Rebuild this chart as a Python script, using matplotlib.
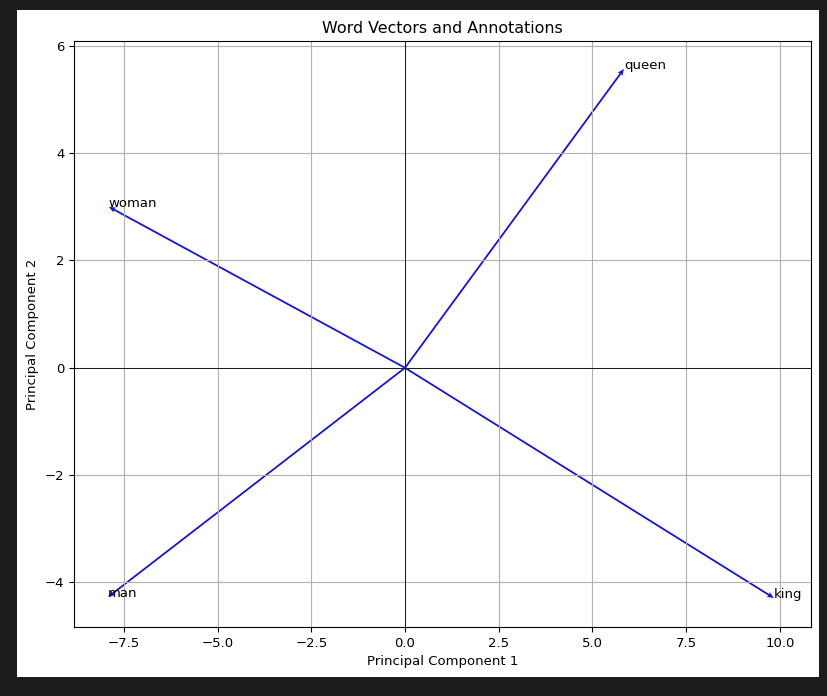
import numpy as np
import matplotlib
matplotlib.use('Agg')
import matplotlib.pyplot as plt
from matplotlib.patches import Rectangle

# word vectors after PCA
words = ['king', 'queen', 'man', 'woman']
pc1 = [9.84, 5.84, -7.92, -7.90]
pc2 = [-4.29, 5.57, -4.27, 3.0]

plt.rcParams['font.size'] = 9.55
plt.rcParams['axes.titlesize'] = 11.46

fig = plt.figure(figsize=(8.28, 6.96), dpi=100, facecolor='#1c1c1c')
# white figure area inside the dark frame
fig.patches.append(Rectangle((17/828, 1 - 677/696), 802/828, 667/696,
                             transform=fig.transFigure, facecolor='white',
                             edgecolor='none', zorder=-10))
ax = fig.add_axes([74/828, 1 - 627/696, (811-74)/828, (627-41)/696])

origin = np.zeros(len(words))
ax.quiver(origin, origin, pc1, pc2, angles='xy', scale_units='xy', scale=1,
          color='#1010e0', width=0.0024, headwidth=3.2, headlength=3.8,
          headaxislength=3.3)
for w, x, y in zip(words, pc1, pc2):
    ax.text(x, y, w)

ax.axhline(0, color='black', linewidth=0.6)
ax.axvline(0, color='black', linewidth=0.6)
ax.set_xlim(-8.83, 10.83)
ax.set_ylim(-4.83, 6.09)
ax.grid(True)
ax.set_title('Word Vectors and Annotations')
ax.set_xlabel('Principal Component 1')
ax.set_ylabel('Principal Component 2')

fig.savefig('out.png', dpi=100, facecolor=fig.get_facecolor())
